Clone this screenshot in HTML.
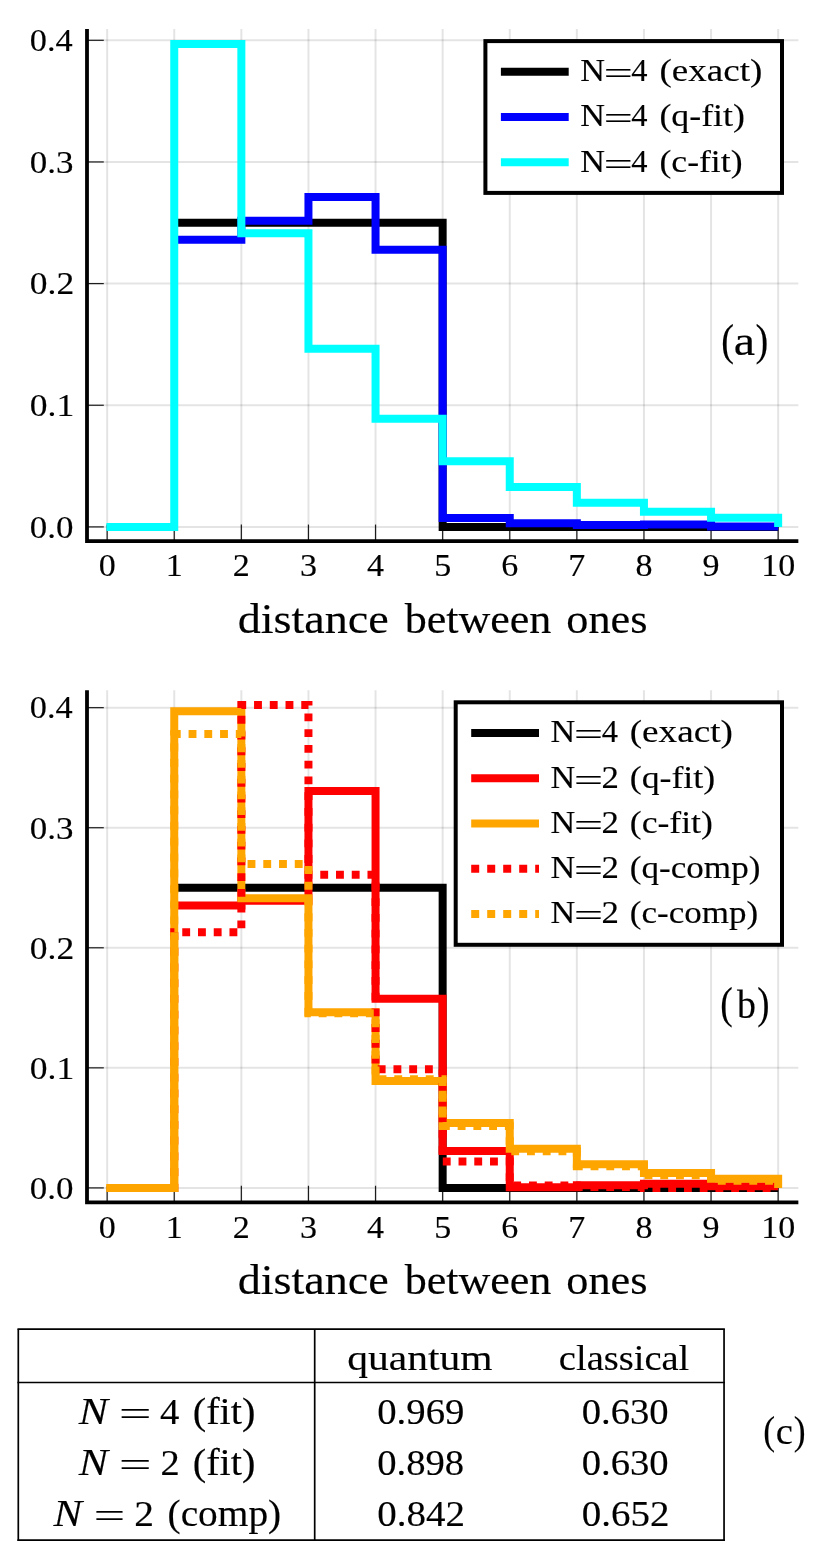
<!DOCTYPE html>
<html><head><meta charset="utf-8"><title>figure</title>
<style>
html,body{margin:0;padding:0;background:#fff;}
svg{display:block;font-family:"Liberation Serif",serif;}
text{stroke:#000;stroke-width:0.15px;}
</style></head><body>
<svg width="825" height="1541" viewBox="0 0 825 1541">
<rect width="825" height="1541" fill="#fff"/>
<g stroke="#000" stroke-opacity="0.105" stroke-width="2" fill="none">
<path d="M107.15 29 V541.15"/>
<path d="M174.25 29 V541.15"/>
<path d="M241.35 29 V541.15"/>
<path d="M308.45 29 V541.15"/>
<path d="M375.55 29 V541.15"/>
<path d="M442.65 29 V541.15"/>
<path d="M509.75 29 V541.15"/>
<path d="M576.85 29 V541.15"/>
<path d="M643.95 29 V541.15"/>
<path d="M711.05 29 V541.15"/>
<path d="M778.15 29 V541.15"/>
<path d="M87.0 526.90 H798.35"/>
<path d="M87.0 405.25 H798.35"/>
<path d="M87.0 283.60 H798.35"/>
<path d="M87.0 161.95 H798.35"/>
<path d="M87.0 40.30 H798.35"/>
</g>
<path d="M87.0 29 V541.15 H798.35" fill="none" stroke="#000" stroke-width="3.8" stroke-linejoin="miter" stroke-linecap="butt"/>
<g stroke="#000" stroke-opacity="0.88" stroke-width="1.2" fill="none">
<path d="M107.15 541.15 V524.55"/>
<path d="M174.25 541.15 V524.55"/>
<path d="M241.35 541.15 V524.55"/>
<path d="M308.45 541.15 V524.55"/>
<path d="M375.55 541.15 V524.55"/>
<path d="M442.65 541.15 V524.55"/>
<path d="M509.75 541.15 V524.55"/>
<path d="M576.85 541.15 V524.55"/>
<path d="M643.95 541.15 V524.55"/>
<path d="M711.05 541.15 V524.55"/>
<path d="M778.15 541.15 V524.55"/>
<path d="M87.0 526.90 H103.80"/>
<path d="M87.0 405.25 H103.80"/>
<path d="M87.0 283.60 H103.80"/>
<path d="M87.0 161.95 H103.80"/>
<path d="M87.0 40.30 H103.80"/>
</g>
<path d="M174.25 222.77 H241.35 V222.77 H308.45 V222.77 H375.55 V222.77 H442.65 V526.90 H509.75 V526.90 H576.85 V526.90 H643.95 V526.90 H711.05 V526.90 H778.15 V526.90" fill="none" stroke="#000" stroke-width="8" stroke-linejoin="miter"/>
<path d="M174.25 239.81 H241.35 V220.71 H308.45 V196.99 H375.55 V249.78 H442.65 V517.90 H509.75 V523.25 H576.85 V525.08 H643.95 V524.47 H711.05 V526.54 H778.15 V526.54" fill="none" stroke="#0000ff" stroke-width="8" stroke-linejoin="miter"/>
<path d="M106.45 526.90 H174.25 V43.95 H241.35 V233.36 H308.45 V348.80 H375.55 V418.63 H442.65 V461.21 H509.75 V487.12 H576.85 V502.81 H643.95 V511.69 H711.05 V517.65 H778.15 V526.90" fill="none" stroke="#00ffff" stroke-width="8" stroke-linejoin="miter"/>
<text><tspan x="29.83" y="537.70" font-size="32" textLength="43.73" lengthAdjust="spacingAndGlyphs">0.0</tspan></text>
<text><tspan x="29.81" y="416.05" font-size="32" textLength="44.47" lengthAdjust="spacingAndGlyphs">0.1</tspan></text>
<text><tspan x="29.81" y="294.40" font-size="32" textLength="44.32" lengthAdjust="spacingAndGlyphs">0.2</tspan></text>
<text><tspan x="29.83" y="172.75" font-size="32" textLength="43.73" lengthAdjust="spacingAndGlyphs">0.3</tspan></text>
<text><tspan x="29.86" y="51.10" font-size="32" textLength="42.88" lengthAdjust="spacingAndGlyphs">0.4</tspan></text>
<text transform="translate(107.15 576.45) scale(1.05 1)" font-size="32.4" text-anchor="middle">0</text>
<text transform="translate(174.25 576.45) scale(1.05 1)" font-size="32.4" text-anchor="middle">1</text>
<text transform="translate(241.35 576.45) scale(1.05 1)" font-size="32.4" text-anchor="middle">2</text>
<text transform="translate(308.45 576.45) scale(1.05 1)" font-size="32.4" text-anchor="middle">3</text>
<text transform="translate(375.55 576.45) scale(1.05 1)" font-size="32.4" text-anchor="middle">4</text>
<text transform="translate(442.65 576.45) scale(1.05 1)" font-size="32.4" text-anchor="middle">5</text>
<text transform="translate(509.75 576.45) scale(1.05 1)" font-size="32.4" text-anchor="middle">6</text>
<text transform="translate(576.85 576.45) scale(1.05 1)" font-size="32.4" text-anchor="middle">7</text>
<text transform="translate(643.95 576.45) scale(1.05 1)" font-size="32.4" text-anchor="middle">8</text>
<text transform="translate(711.05 576.45) scale(1.05 1)" font-size="32.4" text-anchor="middle">9</text>
<text transform="translate(778.15 576.45) scale(1.05 1)" font-size="32.4" text-anchor="middle">10</text>
<text><tspan x="237.65" y="632.65" font-size="42" textLength="151.14" lengthAdjust="spacingAndGlyphs">distance</tspan> <tspan x="404.70" y="632.65" font-size="42" textLength="146.71" lengthAdjust="spacingAndGlyphs">between</tspan> <tspan x="566.29" y="632.65" font-size="42" textLength="81.18" lengthAdjust="spacingAndGlyphs">ones</tspan></text>
<rect x="485.4" y="41.1" width="296.6" height="151.8" fill="#fff" stroke="#000" stroke-width="4"/>
<path d="M500.90 71.80 H568.70" stroke="#000" stroke-width="8" fill="none"/>
<text><tspan x="580.16" y="81.20" font-size="32" textLength="24.72" lengthAdjust="spacingAndGlyphs">N</tspan><tspan x="603.69" y="84.20" font-size="32" textLength="29.00" lengthAdjust="spacingAndGlyphs">=</tspan><tspan x="631.37" y="81.20" font-size="32" textLength="16.24" lengthAdjust="spacingAndGlyphs">4</tspan> <tspan x="659.41" y="81.20" font-size="32" textLength="102.86" lengthAdjust="spacingAndGlyphs">(exact)</tspan></text>
<path d="M500.90 117.05 H568.70" stroke="#0000ff" stroke-width="8" fill="none"/>
<text><tspan x="580.16" y="126.45" font-size="32" textLength="24.72" lengthAdjust="spacingAndGlyphs">N</tspan><tspan x="603.69" y="129.45" font-size="32" textLength="29.00" lengthAdjust="spacingAndGlyphs">=</tspan><tspan x="631.37" y="126.45" font-size="32" textLength="16.24" lengthAdjust="spacingAndGlyphs">4</tspan> <tspan x="659.46" y="126.45" font-size="32" textLength="85.41" lengthAdjust="spacingAndGlyphs">(q-fit)</tspan></text>
<path d="M500.90 162.30 H568.70" stroke="#00ffff" stroke-width="8" fill="none"/>
<text><tspan x="580.16" y="171.70" font-size="32" textLength="24.72" lengthAdjust="spacingAndGlyphs">N</tspan><tspan x="603.69" y="174.70" font-size="32" textLength="29.00" lengthAdjust="spacingAndGlyphs">=</tspan><tspan x="631.37" y="171.70" font-size="32" textLength="16.24" lengthAdjust="spacingAndGlyphs">4</tspan> <tspan x="659.47" y="171.70" font-size="32" textLength="83.04" lengthAdjust="spacingAndGlyphs">(c-fit)</tspan></text>
<text><tspan x="721.17" y="354.60" font-size="44" textLength="12.75" lengthAdjust="spacingAndGlyphs">(</tspan><tspan x="733.82" y="354.60" font-size="43" textLength="21.33" lengthAdjust="spacingAndGlyphs">a</tspan><tspan x="755.40" y="354.60" font-size="44" textLength="12.75" lengthAdjust="spacingAndGlyphs">)</tspan></text>
<g stroke="#000" stroke-opacity="0.105" stroke-width="2" fill="none">
<path d="M107.15 690.2 V1202.35"/>
<path d="M174.25 690.2 V1202.35"/>
<path d="M241.35 690.2 V1202.35"/>
<path d="M308.45 690.2 V1202.35"/>
<path d="M375.55 690.2 V1202.35"/>
<path d="M442.65 690.2 V1202.35"/>
<path d="M509.75 690.2 V1202.35"/>
<path d="M576.85 690.2 V1202.35"/>
<path d="M643.95 690.2 V1202.35"/>
<path d="M711.05 690.2 V1202.35"/>
<path d="M778.15 690.2 V1202.35"/>
<path d="M87.0 1187.90 H798.35"/>
<path d="M87.0 1067.84 H798.35"/>
<path d="M87.0 947.78 H798.35"/>
<path d="M87.0 827.72 H798.35"/>
<path d="M87.0 707.66 H798.35"/>
</g>
<path d="M87.0 690.2 V1202.35 H798.35" fill="none" stroke="#000" stroke-width="3.8" stroke-linejoin="miter" stroke-linecap="butt"/>
<g stroke="#000" stroke-opacity="0.88" stroke-width="1.2" fill="none">
<path d="M107.15 1202.35 V1185.75"/>
<path d="M174.25 1202.35 V1185.75"/>
<path d="M241.35 1202.35 V1185.75"/>
<path d="M308.45 1202.35 V1185.75"/>
<path d="M375.55 1202.35 V1185.75"/>
<path d="M442.65 1202.35 V1185.75"/>
<path d="M509.75 1202.35 V1185.75"/>
<path d="M576.85 1202.35 V1185.75"/>
<path d="M643.95 1202.35 V1185.75"/>
<path d="M711.05 1202.35 V1185.75"/>
<path d="M778.15 1202.35 V1185.75"/>
<path d="M87.0 1187.90 H103.80"/>
<path d="M87.0 1067.84 H103.80"/>
<path d="M87.0 947.78 H103.80"/>
<path d="M87.0 827.72 H103.80"/>
<path d="M87.0 707.66 H103.80"/>
</g>
<path d="M174.25 887.75 H241.35 V887.75 H308.45 V887.75 H375.55 V887.75 H442.65 V1187.90 H509.75 V1187.90 H576.85 V1187.90 H643.95 V1187.90 H711.05 V1187.90 H778.15 V1187.90" fill="none" stroke="#000" stroke-width="8" stroke-linejoin="miter"/>
<path d="M174.25 905.40 H241.35 V900.72 H308.45 V790.98 H375.55 V998.69 H442.65 V1151.04 H509.75 V1187.30 H576.85 V1185.14 H643.95 V1183.82 H711.05 V1186.34 H778.15 V1186.34" fill="none" stroke="#ff0000" stroke-width="8" stroke-linejoin="miter"/>
<path d="M106.45 1187.90 H174.25 V711.26 H241.35 V898.20 H308.45 V1012.13 H375.55 V1081.05 H442.65 V1123.07 H509.75 V1148.64 H576.85 V1164.13 H643.95 V1172.89 H711.05 V1178.78 H778.15 V1187.90" fill="none" stroke="#ffa500" stroke-width="8" stroke-linejoin="miter"/>
<path d="M106.45 1187.90 H174.25 V932.17 H241.35 V704.90 H308.45 V874.78 H375.55 V1069.16 H442.65 V1161.49 H509.75 V1185.50 H576.85 V1186.94 H643.95 V1187.90 H711.05 V1187.90 H778.15 V1187.90" fill="none" stroke="#ff0000" stroke-width="8" stroke-linejoin="miter" stroke-dasharray="7.87 7.87" stroke-dashoffset="-1.00"/>
<path d="M106.45 1187.90 H174.25 V936.01" fill="none" stroke="#ffa500" stroke-width="8" stroke-linejoin="miter"/>
<path d="M106.45 1187.90 H174.25 V734.07 H241.35 V863.98 H308.45 V1013.21 H375.55 V1079.25 H442.65 V1126.07 H509.75 V1151.16 H576.85 V1166.29 H643.95 V1175.29 H711.05 V1180.70 H778.15 V1183.10" fill="none" stroke="#ffa500" stroke-width="8" stroke-linejoin="miter" stroke-dasharray="7.87 7.87" stroke-dashoffset="-0.80"/>
<text><tspan x="29.83" y="1198.70" font-size="32" textLength="43.73" lengthAdjust="spacingAndGlyphs">0.0</tspan></text>
<text><tspan x="29.81" y="1078.64" font-size="32" textLength="44.47" lengthAdjust="spacingAndGlyphs">0.1</tspan></text>
<text><tspan x="29.81" y="958.58" font-size="32" textLength="44.32" lengthAdjust="spacingAndGlyphs">0.2</tspan></text>
<text><tspan x="29.83" y="838.52" font-size="32" textLength="43.73" lengthAdjust="spacingAndGlyphs">0.3</tspan></text>
<text><tspan x="29.86" y="718.46" font-size="32" textLength="42.88" lengthAdjust="spacingAndGlyphs">0.4</tspan></text>
<text transform="translate(107.15 1237.65) scale(1.05 1)" font-size="32.4" text-anchor="middle">0</text>
<text transform="translate(174.25 1237.65) scale(1.05 1)" font-size="32.4" text-anchor="middle">1</text>
<text transform="translate(241.35 1237.65) scale(1.05 1)" font-size="32.4" text-anchor="middle">2</text>
<text transform="translate(308.45 1237.65) scale(1.05 1)" font-size="32.4" text-anchor="middle">3</text>
<text transform="translate(375.55 1237.65) scale(1.05 1)" font-size="32.4" text-anchor="middle">4</text>
<text transform="translate(442.65 1237.65) scale(1.05 1)" font-size="32.4" text-anchor="middle">5</text>
<text transform="translate(509.75 1237.65) scale(1.05 1)" font-size="32.4" text-anchor="middle">6</text>
<text transform="translate(576.85 1237.65) scale(1.05 1)" font-size="32.4" text-anchor="middle">7</text>
<text transform="translate(643.95 1237.65) scale(1.05 1)" font-size="32.4" text-anchor="middle">8</text>
<text transform="translate(711.05 1237.65) scale(1.05 1)" font-size="32.4" text-anchor="middle">9</text>
<text transform="translate(778.15 1237.65) scale(1.05 1)" font-size="32.4" text-anchor="middle">10</text>
<text><tspan x="237.65" y="1293.85" font-size="42" textLength="151.14" lengthAdjust="spacingAndGlyphs">distance</tspan> <tspan x="404.70" y="1293.85" font-size="42" textLength="146.71" lengthAdjust="spacingAndGlyphs">between</tspan> <tspan x="566.29" y="1293.85" font-size="42" textLength="81.18" lengthAdjust="spacingAndGlyphs">ones</tspan></text>
<rect x="455.7" y="702.3" width="326.3" height="242.5" fill="#fff" stroke="#000" stroke-width="4"/>
<path d="M471.20 733.00 H539.00" stroke="#000" stroke-width="8" fill="none"/>
<text><tspan x="550.46" y="742.40" font-size="32" textLength="24.72" lengthAdjust="spacingAndGlyphs">N</tspan><tspan x="573.99" y="745.40" font-size="32" textLength="29.00" lengthAdjust="spacingAndGlyphs">=</tspan><tspan x="601.67" y="742.40" font-size="32" textLength="16.24" lengthAdjust="spacingAndGlyphs">4</tspan> <tspan x="629.70" y="742.40" font-size="32" textLength="103.17" lengthAdjust="spacingAndGlyphs">(exact)</tspan></text>
<path d="M471.20 778.25 H539.00" stroke="#ff0000" stroke-width="8" fill="none"/>
<text><tspan x="550.46" y="787.65" font-size="32" textLength="24.72" lengthAdjust="spacingAndGlyphs">N</tspan><tspan x="573.99" y="790.65" font-size="32" textLength="29.00" lengthAdjust="spacingAndGlyphs">=</tspan><tspan x="601.50" y="787.65" font-size="32" textLength="17.40" lengthAdjust="spacingAndGlyphs">2</tspan> <tspan x="629.76" y="787.65" font-size="32" textLength="85.41" lengthAdjust="spacingAndGlyphs">(q-fit)</tspan></text>
<path d="M471.20 823.50 H539.00" stroke="#ffa500" stroke-width="8" fill="none"/>
<text><tspan x="550.46" y="832.90" font-size="32" textLength="24.72" lengthAdjust="spacingAndGlyphs">N</tspan><tspan x="573.99" y="835.90" font-size="32" textLength="29.00" lengthAdjust="spacingAndGlyphs">=</tspan><tspan x="601.50" y="832.90" font-size="32" textLength="17.40" lengthAdjust="spacingAndGlyphs">2</tspan> <tspan x="629.77" y="832.90" font-size="32" textLength="83.04" lengthAdjust="spacingAndGlyphs">(c-fit)</tspan></text>
<path d="M471.20 868.75 H539.00" stroke="#ff0000" stroke-width="8" fill="none" stroke-dasharray="8 8"/>
<text><tspan x="550.46" y="878.15" font-size="32" textLength="24.72" lengthAdjust="spacingAndGlyphs">N</tspan><tspan x="573.99" y="881.15" font-size="32" textLength="29.00" lengthAdjust="spacingAndGlyphs">=</tspan><tspan x="601.50" y="878.15" font-size="32" textLength="17.40" lengthAdjust="spacingAndGlyphs">2</tspan> <tspan x="629.79" y="878.15" font-size="32" textLength="130.58" lengthAdjust="spacingAndGlyphs">(q-comp)</tspan></text>
<path d="M471.20 914.00 H539.00" stroke="#ffa500" stroke-width="8" fill="none" stroke-dasharray="8 8"/>
<text><tspan x="550.46" y="923.40" font-size="32" textLength="24.72" lengthAdjust="spacingAndGlyphs">N</tspan><tspan x="573.99" y="926.40" font-size="32" textLength="29.00" lengthAdjust="spacingAndGlyphs">=</tspan><tspan x="601.50" y="923.40" font-size="32" textLength="17.40" lengthAdjust="spacingAndGlyphs">2</tspan> <tspan x="629.79" y="923.40" font-size="32" textLength="128.43" lengthAdjust="spacingAndGlyphs">(c-comp)</tspan></text>
<text><tspan x="720.31" y="1017.80" font-size="44.5" textLength="12.51" lengthAdjust="spacingAndGlyphs">(</tspan><tspan x="737.00" y="1017.80" font-size="40" textLength="18.92" lengthAdjust="spacingAndGlyphs">b</tspan><tspan x="757.16" y="1017.80" font-size="44.5" textLength="12.24" lengthAdjust="spacingAndGlyphs">)</tspan></text>
<g stroke="#000" stroke-width="1.7" fill="none">
<path d="M17.45 1329.15 H724.9 M17.45 1382.5 H724.9 M17.45 1540.2 H724.9"/>
<path d="M18.3 1329.15 V1541 M314.7 1329.15 V1541 M724.05 1329.15 V1541"/>
</g>
<text><tspan x="347.36" y="1369.80" font-size="36" textLength="145.20" lengthAdjust="spacingAndGlyphs">quantum</tspan></text>
<text><tspan x="558.83" y="1369.80" font-size="36" textLength="130.51" lengthAdjust="spacingAndGlyphs">classical</tspan></text>
<text><tspan x="78.68" y="1423.70" font-size="38.5" font-style="italic" textLength="29.24" lengthAdjust="spacingAndGlyphs">N</tspan> <tspan x="118.97" y="1425.90" font-size="36.8" textLength="32.48" lengthAdjust="spacingAndGlyphs">=</tspan> <tspan x="159.91" y="1423.70" font-size="36.8" textLength="19.34" lengthAdjust="spacingAndGlyphs">4</tspan> <tspan x="192.69" y="1423.70" font-size="38.5" textLength="62.82" lengthAdjust="spacingAndGlyphs">(fit)</tspan></text>
<text><tspan x="377.25" y="1423.70" font-size="36.8" textLength="87.08" lengthAdjust="spacingAndGlyphs">0.969</tspan></text>
<text><tspan x="581.76" y="1423.70" font-size="36.8" textLength="86.94" lengthAdjust="spacingAndGlyphs">0.630</tspan></text>
<text><tspan x="78.68" y="1475.00" font-size="38.5" font-style="italic" textLength="29.24" lengthAdjust="spacingAndGlyphs">N</tspan> <tspan x="118.97" y="1477.20" font-size="36.8" textLength="32.48" lengthAdjust="spacingAndGlyphs">=</tspan> <tspan x="160.60" y="1475.00" font-size="36.8" textLength="19.21" lengthAdjust="spacingAndGlyphs">2</tspan> <tspan x="192.69" y="1475.00" font-size="38.5" textLength="62.82" lengthAdjust="spacingAndGlyphs">(fit)</tspan></text>
<text><tspan x="377.26" y="1475.00" font-size="36.8" textLength="86.94" lengthAdjust="spacingAndGlyphs">0.898</tspan></text>
<text><tspan x="581.76" y="1475.00" font-size="36.8" textLength="86.94" lengthAdjust="spacingAndGlyphs">0.630</tspan></text>
<text><tspan x="53.48" y="1526.20" font-size="38.5" font-style="italic" textLength="28.59" lengthAdjust="spacingAndGlyphs">N</tspan> <tspan x="93.86" y="1528.40" font-size="36.8" textLength="31.39" lengthAdjust="spacingAndGlyphs">=</tspan> <tspan x="134.36" y="1526.20" font-size="36.8" textLength="19.71" lengthAdjust="spacingAndGlyphs">2</tspan> <tspan x="167.54" y="1526.20" font-size="38.5" textLength="113.67" lengthAdjust="spacingAndGlyphs">(comp)</tspan></text>
<text><tspan x="377.24" y="1526.20" font-size="36.8" textLength="87.63" lengthAdjust="spacingAndGlyphs">0.842</tspan></text>
<text><tspan x="581.74" y="1526.20" font-size="36.8" textLength="87.63" lengthAdjust="spacingAndGlyphs">0.652</tspan></text>
<text><tspan x="763.27" y="1443.80" font-size="40.6" textLength="11.85" lengthAdjust="spacingAndGlyphs">(</tspan><tspan x="775.88" y="1443.80" font-size="37.5" textLength="17.20" lengthAdjust="spacingAndGlyphs">c</tspan><tspan x="793.80" y="1443.80" font-size="40.6" textLength="11.85" lengthAdjust="spacingAndGlyphs">)</tspan></text>
</svg>
</body></html>
